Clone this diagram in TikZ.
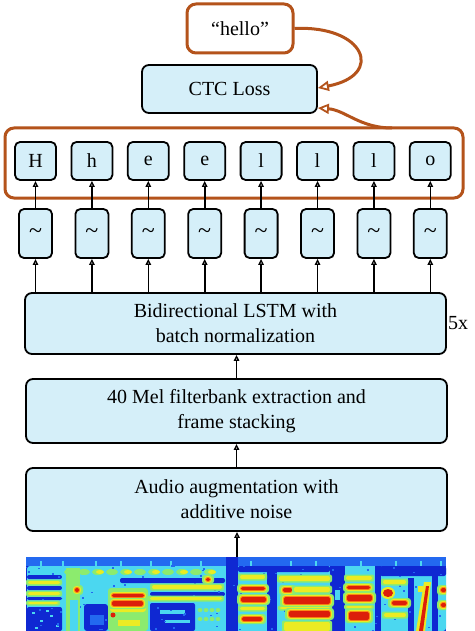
\documentclass[tikz,border=0pt]{standalone}
\usepackage{fontspec}
\setmainfont{Liberation Serif}
\usetikzlibrary{arrows.meta}
\definecolor{boxblue}{HTML}{D5EFF9}
\definecolor{rust}{HTML}{B4531B}
\definecolor{specblue}{RGB}{15,40,210}
\definecolor{specmid}{RGB}{35,105,240}
\definecolor{speccyan}{RGB}{75,215,240}
\definecolor{specgreen}{RGB}{140,235,110}
\definecolor{specyellow}{RGB}{235,235,35}
\definecolor{specorange}{RGB}{250,140,20}
\definecolor{specred}{RGB}{220,30,10}
\newcommand\hotband[4]{%
 \fill[specgreen,rounded corners=3pt] (#1-4,#2-3) rectangle (#3+4,#4+3);
 \fill[specyellow,rounded corners=3pt] (#1-2,#2-1.8) rectangle (#3+2,#4+1.8);
 \fill[specorange,rounded corners=2pt] (#1-0.8,#2-0.8) rectangle (#3+0.8,#4+0.8);
 \fill[specred,rounded corners=2pt] (#1,#2) rectangle (#3,#4);}
\newcommand\warmband[4]{%
 \fill[specgreen,rounded corners=2pt] (#1-2,#2-1.5) rectangle (#3+2,#4+1.5);
 \fill[specyellow,rounded corners=2pt] (#1,#2) rectangle (#3,#4);}
\tikzset{
  blockbox/.style={draw=black, line width=1.8pt, fill=boxblue, rounded corners=7pt,
    inner sep=0pt, align=center, font=\fontsize{20}{25}\selectfont},
  smallbox/.style={blockbox, rounded corners=5pt},
  rustbox/.style={draw=rust, line width=3pt, rounded corners=9pt, inner sep=0pt,
    font=\fontsize{20}{25}\selectfont},
  arr/.style={line width=1.6pt, -{Triangle[open,length=6pt,width=5.5pt,line width=1.3pt]}},
  rarr/.style={draw=rust, line width=3pt, -{Triangle[open,length=11pt,width=10pt,line width=1.8pt]}},
  lbl/.style={inner sep=0pt, font=\fontsize{20}{25}\selectfont}
}
\begin{document}
\begin{tikzpicture}[x=1pt,y=-1pt]
\useasboundingbox (0,0) rectangle (474,631);
\fill[white] (0,0) rectangle (474,631);

% spectrogram
\begin{scope}
\clip (26,557) rectangle (446,631);
\fill[specblue] (26,557) rectangle (446,631);
% cyan base
\fill[speccyan,rounded corners=3pt] (27,566) rectangle (446,631);
\fill[specmid] (26,557) rectangle (446,566);
\foreach \xx in {40,62,95,120,150,170,200,250,290,315,360,395,420,440}
  \fill[speccyan] (\xx,561) rectangle (\xx+2,566);
% blue overlays
\fill[specblue,rounded corners=2pt] (27,575) rectangle (62,579);
\fill[specblue,rounded corners=2pt] (27,586) rectangle (62,590);
\fill[specblue,rounded corners=2pt] (27,597) rectangle (62,600);
\fill[specblue,rounded corners=2pt] (27,607) rectangle (62,631);
\foreach \xx/\yy in {32/612,40/620,50/615,56/625,35/627,46/610}
  \fill[speccyan] (\xx,\yy) rectangle (\xx+3,\yy+2);
\fill[specblue,rounded corners=3pt] (84,604) rectangle (108,631);
\fill[specmid] (90,615) rectangle (104,625);
\fill[specblue,rounded corners=2pt] (120,578) rectangle (225,583);
\fill[specblue,rounded corners=2pt] (150,592) rectangle (225,596);
\fill[specblue,rounded corners=2pt] (150,603) rectangle (195,631);
\fill[speccyan] (160,610) rectangle (185,614);
\fill[speccyan] (165,620) rectangle (190,623);
\fill[specblue] (226,557) rectangle (238,631);
\fill[specblue] (267,566) rectangle (277,631);
\fill[specblue] (330,566) rectangle (345,631);
\fill[speccyan] (335,590) rectangle (340,600);
\fill[specblue] (375,566) rectangle (381,631);
\fill[specblue] (408,578) rectangle (414,631);
\fill[specblue] (432,575) rectangle (438,631);
\fill[specblue,rounded corners=2pt] (380,566) rectangle (446,576);
\fill[specblue,rounded corners=2pt] (238,566) rectangle (330,572);
% speckles
\pgfmathsetseed{7}
\foreach \k in {1,...,120}{
  \pgfmathsetmacro{\sx}{26+420*rnd}
  \pgfmathsetmacro{\sy}{557+74*rnd}
  \fill[specmid] (\sx,\sy) rectangle (\sx+2,\sy+1.5);}
% ripple band
\foreach \xx in {70,84,98,112,126,140,154,168,182,196,210}
  \fill[specgreen] (\xx,572) ellipse [x radius=6, y radius=3];
\foreach \xx in {72,100,128,156,184,212}
  \fill[specyellow] (\xx,572) ellipse [x radius=4, y radius=2];
% left bands
\warmband{28}{581}{60}{584}
\warmband{28}{592}{60}{595}
\warmband{28}{602}{58}{604}
\fill[specgreen] (66,568) rectangle (80,631);
\fill[speccyan] (70,600) rectangle (78,631);
\hotband{75}{588}{79}{592}
% block 110-145
\fill[specgreen,rounded corners=3pt] (108,588) rectangle (148,631);
\fill[specyellow,rounded corners=3pt] (110,592) rectangle (146,612);
\hotband{112}{594}{144}{597}
\hotband{112}{601}{143}{606}
\fill[specred] (113,615) ellipse [x radius=2.5, y radius=2.5];
\fill[specyellow] (118,620) rectangle (140,626);
% right-of-block bands
\warmband{152}{585}{222}{589}
\warmband{150}{597}{222}{600}
\hotband{206}{578}{210}{581}
\foreach \xx in {200,206,212,218}{
  \fill[specgreen] (\xx,610) ellipse [x radius=2.5, y radius=2];
  \fill[specgreen] (\xx,619) ellipse [x radius=2.5, y radius=2];}
% region 238-267
\warmband{240}{575}{265}{579}
\hotband{241}{587}{265}{590}
\hotband{241}{597}{266}{602}
\warmband{240}{607}{265}{610}
\hotband{242}{617}{262}{621}
% region 278-330
\warmband{279}{576}{330}{581}
\hotband{283}{588}{292}{592}
\warmband{294}{587}{330}{592}
\hotband{284}{597}{330}{604}
\warmband{280}{607}{330}{609}
\hotband{289}{611}{330}{617}
\warmband{284}{622}{330}{631}
% region 345-375
\warmband{346}{576}{372}{580}
\hotband{347}{586}{370}{589}
\hotband{347}{595}{372}{601}
\warmband{346}{606}{372}{608}
\hotband{349}{612}{369}{620}
% region 383-408
\warmband{383}{580}{406}{584}
\fill[specyellow] (388,593) ellipse [x radius=7, y radius=6];
\fill[specred] (388,593) ellipse [x radius=5, y radius=4];
\hotband{392}{601}{407}{605}
\warmband{384}{613}{406}{617}
\fill[specyellow] (418,586) rectangle (423,592);
% slanted streak
\fill[specyellow] (424,582) -- (431,582) -- (425,631) -- (416,631) -- cycle;
\fill[specred] (426,586) -- (429,586) -- (423,631) -- (419,631) -- cycle;
\hotband{441}{588}{446}{592}
\hotband{441}{603}{446}{607}
\end{scope}
\coordinate (spec) at (237,557);

% blocks
\node[blockbox, minimum width=421pt, minimum height=63pt] (audio) at (236.5,499.5)
  {Audio augmentation with\\additive noise};
\node[blockbox, minimum width=421pt, minimum height=64pt] (mel) at (236.5,411)
  {40 Mel filterbank extraction and\\frame stacking};
\node[blockbox, minimum width=421pt, minimum height=61pt] (lstm) at (235.5,323.5)
  {Bidirectional LSTM with\\batch normalization};
\node[lbl, anchor=west] (rep) at (448,323) {5x};

\node[rustbox, minimum width=458pt, minimum height=70pt] (cont) at (234,163) {};
\coordinate (cstart) at (392,128);

\foreach \i/\c in {0/H,1/h,2/e,3/e,4/l,5/l,6/l,7/o}{
  \node[smallbox, minimum width=41pt, minimum height=38pt] (l\i) at (35.5+56.4*\i,161) {\c};
  \node[smallbox, minimum width=33pt, minimum height=49pt, font=\fontsize{24}{25}\selectfont] (t\i) at (35.5+56.4*\i,233.5) {\textasciitilde};
  \draw[arr] (t\i.south |- lstm.north) -- (t\i.south);
  \draw[arr] (t\i.north) -- (l\i.south);
}

\node[blockbox, minimum width=175pt, minimum height=48pt] (ctc) at (229.5,89) {CTC Loss};
\node[rustbox, fill=white, minimum width=106pt, minimum height=49pt] (hello) at (240,28.5) {“hello”};

\draw[arr] (spec) -- (spec |- audio.south);
\draw[arr] (audio.north) -- (audio.north |- mel.south);
\draw[arr] (mel.north) -- (mel.north |- lstm.south);

\draw[rarr] (hello.east) .. controls (365,25) and (385,75) .. ([yshift=1pt]ctc.east);
\draw[rarr] (cstart) .. controls (360,128) and (345,110) .. ([yshift=-19pt]ctc.east);
\end{tikzpicture}
\end{document}
